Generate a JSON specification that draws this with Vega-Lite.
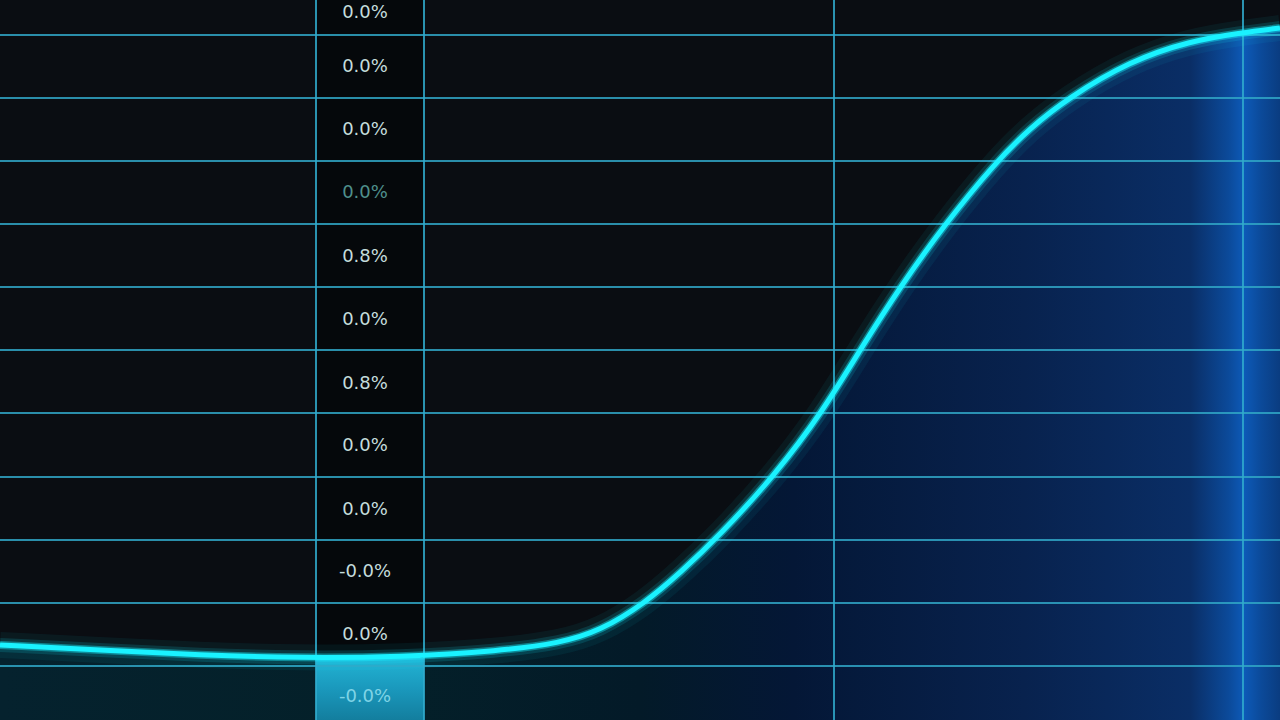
{
  "$schema": "https://vega.github.io/schema/vega-lite/v6.json",
  "width": 1280,
  "height": 720,
  "padding": 0,
  "autosize": {"type": "fit", "contains": "padding"},
  "background": "#0a0d12",
  "config": {"view": {"stroke": null}},
  "datasets": {
    "curve": [
      {"x": 0, "y": 75}, {"x": 100, "y": 70}, {"x": 200, "y": 65}, {"x": 300, "y": 62},
      {"x": 400, "y": 63}, {"x": 500, "y": 69}, {"x": 560, "y": 77}, {"x": 600, "y": 89},
      {"x": 645, "y": 117}, {"x": 680, "y": 147}, {"x": 720, "y": 185}, {"x": 775, "y": 245},
      {"x": 823, "y": 309}, {"x": 860, "y": 370}, {"x": 900, "y": 433}, {"x": 945, "y": 496},
      {"x": 995, "y": 557}, {"x": 1030, "y": 592}, {"x": 1068, "y": 622}, {"x": 1130, "y": 659},
      {"x": 1190, "y": 679}, {"x": 1240, "y": 687}, {"x": 1280, "y": 692}
    ],
    "hgrid": [
      {"y": 685}, {"y": 622}, {"y": 559}, {"y": 496}, {"y": 433}, {"y": 370},
      {"y": 307}, {"y": 243}, {"y": 180}, {"y": 117}, {"y": 54}
    ],
    "vgrid": [{"x": 316}, {"x": 424}, {"x": 834}, {"x": 1243}],
    "labels": [
      {"y": 707, "label": "0.0%", "tone": "normal"},
      {"y": 653, "label": "0.0%", "tone": "normal"},
      {"y": 590, "label": "0.0%", "tone": "normal"},
      {"y": 527, "label": "0.0%", "tone": "dim"},
      {"y": 463, "label": "0.8%", "tone": "normal"},
      {"y": 400, "label": "0.0%", "tone": "normal"},
      {"y": 336, "label": "0.8%", "tone": "normal"},
      {"y": 274, "label": "0.0%", "tone": "normal"},
      {"y": 210, "label": "0.0%", "tone": "normal"},
      {"y": 148, "label": "-0.0%", "tone": "normal"},
      {"y": 85, "label": "0.0%", "tone": "normal"},
      {"y": 23, "label": "-0.0%", "tone": "base"}
    ],
    "band": [{"x": 316, "x2": 424, "y": 62, "y2": 720}],
    "bandBase": [{"x": 316, "x2": 424, "y": 0, "y2": 62}]
  },
  "layer": [
    {
      "data": {"name": "curve"},
      "mark": {
        "type": "area",
        "clip": true,
        "interpolate": "basis",
        "fill": {
          "gradient": "linear", "x1": 0, "x2": 1, "y1": 0, "y2": 0,
          "stops": [
            {"offset": 0, "color": "#05222e"},
            {"offset": 0.3, "color": "#042029"},
            {"offset": 0.5, "color": "#031a28"},
            {"offset": 0.62, "color": "#041736"},
            {"offset": 0.8, "color": "#08224e"},
            {"offset": 0.93, "color": "#0a2e66"},
            {"offset": 0.96, "color": "#0b4a9a"},
            {"offset": 0.972, "color": "#0d5ab8"},
            {"offset": 0.985, "color": "#0b4a9a"},
            {"offset": 1, "color": "#0a3c80"}
          ]
        }
      },
      "encoding": {
        "x": {"field": "x", "type": "quantitative", "scale": {"domain": [0, 1280], "nice": false, "zero": false}, "axis": null},
        "y": {"field": "y", "type": "quantitative", "scale": {"domain": [0, 720], "nice": false}, "axis": null}
      }
    },
    {
      "data": {"name": "band"},
      "mark": {"type": "rect", "clip": true, "fill": "#05080b"},
      "encoding": {
        "x": {"field": "x", "type": "quantitative"},
        "x2": {"field": "x2"},
        "y": {"field": "y", "type": "quantitative"},
        "y2": {"field": "y2"}
      }
    },
    {
      "data": {"name": "bandBase"},
      "mark": {
        "type": "rect",
        "clip": true,
        "fill": {
          "gradient": "linear", "x1": 0, "x2": 0, "y1": 0, "y2": 1,
          "stops": [
            {"offset": 0, "color": "#22b4d4"},
            {"offset": 0.5, "color": "#1a98bc"},
            {"offset": 1, "color": "#137e9e"}
          ]
        }
      },
      "encoding": {
        "x": {"field": "x", "type": "quantitative"},
        "x2": {"field": "x2"},
        "y": {"field": "y", "type": "quantitative"},
        "y2": {"field": "y2"}
      }
    },
    {
      "data": {"name": "hgrid"},
      "mark": {"type": "rule", "clip": true, "stroke": "#30a6c6", "strokeWidth": 2, "opacity": 0.85},
      "encoding": {"y": {"field": "y", "type": "quantitative"}}
    },
    {
      "data": {"name": "vgrid"},
      "mark": {"type": "rule", "clip": true, "stroke": "#30aacc", "strokeWidth": 2, "opacity": 0.85},
      "encoding": {"x": {"field": "x", "type": "quantitative"}}
    },
    {
      "data": {"name": "curve"},
      "mark": {"type": "line", "clip": true, "interpolate": "basis", "stroke": "#18e8ff", "strokeWidth": 26, "opacity": 0.06},
      "encoding": {"x": {"field": "x", "type": "quantitative"}, "y": {"field": "y", "type": "quantitative"}}
    },
    {
      "data": {"name": "curve"},
      "mark": {"type": "line", "clip": true, "interpolate": "basis", "stroke": "#18e8ff", "strokeWidth": 14, "opacity": 0.14},
      "encoding": {"x": {"field": "x", "type": "quantitative"}, "y": {"field": "y", "type": "quantitative"}}
    },
    {
      "data": {"name": "curve"},
      "mark": {"type": "line", "clip": true, "interpolate": "basis", "stroke": "#18f0ff", "strokeWidth": 8, "opacity": 0.4},
      "encoding": {"x": {"field": "x", "type": "quantitative"}, "y": {"field": "y", "type": "quantitative"}}
    },
    {
      "data": {"name": "curve"},
      "mark": {"type": "line", "clip": true, "interpolate": "basis", "stroke": "#1af2ff", "strokeWidth": 5},
      "encoding": {"x": {"field": "x", "type": "quantitative"}, "y": {"field": "y", "type": "quantitative"}}
    },
    {
      "data": {"name": "labels"},
      "mark": {"type": "text", "clip": true, "font": "DejaVu Sans", "fontSize": 18, "align": "center", "baseline": "middle"},
      "encoding": {
        "x": {"datum": 365, "type": "quantitative"},
        "y": {"field": "y", "type": "quantitative"},
        "text": {"field": "label"},
        "color": {
          "field": "tone", "type": "nominal", "legend": null,
          "scale": {"domain": ["normal", "dim", "base"], "range": ["#c4dcdc", "#4f8f8c", "#7fd4e6"]}
        }
      }
    }
  ]
}
